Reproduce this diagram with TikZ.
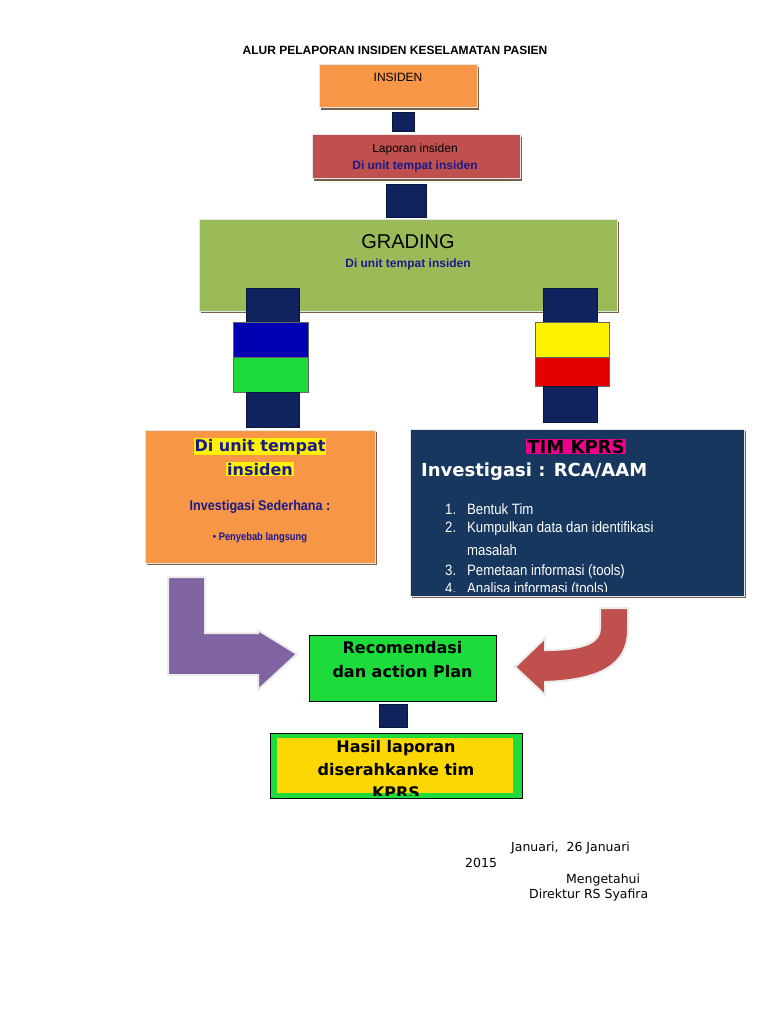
\documentclass[tikz,border=0pt]{standalone}
\usepackage{fontspec}
\setmainfont{Liberation Sans}
\newfontfamily\dv{DejaVu Sans}
\usetikzlibrary{shadows}
\definecolor{nav}{HTML}{10235F}
\definecolor{org}{HTML}{F79646}
\definecolor{rd}{HTML}{C0504D}
\definecolor{olv}{HTML}{9BBB59}
\definecolor{dblue}{HTML}{1A1A8C}
\definecolor{grn}{HTML}{1CDB3A}
\definecolor{kp}{HTML}{17375E}
\definecolor{pur}{HTML}{8064A2}
\begin{document}
\begin{tikzpicture}[x=1pt,y=-1pt,
 bx/.style={draw=white!80!gray,line width=1pt,drop shadow={shadow xshift=2pt,shadow yshift=-2pt,fill=black!55!brown,opacity=.8}},
 sq/.style={fill=nav,draw=nav!60!black,line width=.5pt},
 t/.style={inner sep=0,anchor=base}]
\useasboundingbox (0,0) rectangle (768,1024);
\fill[white] (0,0) rectangle (768,1024);
\node[t,font=\bfseries\fontsize{12}{14}\selectfont] (title) at (395,55) {ALUR PELAPORAN INSIDEN KESELAMATAN PASIEN};
% INSIDEN
\path[bx,fill=org] (319,65) rectangle (477,108);
\node[t,font=\fontsize{12}{14}\selectfont] (ins) at (398,82) {INSIDEN};
\path[sq] (392,112) rectangle (414,131);
\path[bx,fill=rd] (312,135) rectangle (520,179);
\node[t,font=\fontsize{12}{14}\selectfont] (lap) at (415,153) {Laporan insiden};
\node[t,font=\bfseries\fontsize{12}{14}\selectfont,text=dblue] (lap2) at (415,170) {Di unit tempat insiden};
\path[sq] (386,184) rectangle (426,217);
\path[bx,fill=olv] (199,220) rectangle (617,311);
\node[t,font=\fontsize{20}{22}\selectfont] (gr) at (408,248) {GRADING};
\node[t,font=\bfseries\fontsize{12}{14}\selectfont,text=dblue] (gr2) at (408,267) {Di unit tempat insiden};
% left column
\path[sq] (246,288) rectangle (299,322);
\path[fill=blue!70!black,draw=black!60] (233,322) rectangle (308,357);
\path[fill=grn,draw=black!60] (233,357) rectangle (308,392);
\path[sq] (246,392) rectangle (299,427);
% right column
\path[sq] (543,288) rectangle (597,322);
\path[fill=yellow,draw=black!60] (535,322) rectangle (609,357);
\path[fill=red!90!black,draw=black!60] (535,357) rectangle (609,386);
\path[sq] (543,386) rectangle (597,422);
% left box
\path[bx,fill=org] (145,430) rectangle (375,563);
\node[t,font=\dv\bfseries\fontsize{16}{18}\selectfont,text=dblue,fill=yellow,inner sep=1pt] (l1) at (260,451) {Di unit tempat};
\node[t,font=\dv\bfseries\fontsize{16}{18}\selectfont,text=dblue,fill=yellow,inner sep=1pt] (l2) at (260,475) {insiden};
\node[t,font=\bfseries\fontsize{14}{16}\selectfont,text=dblue,xscale=.9] (l3) at (260,510) {Investigasi Sederhana :};
\node[t,font=\bfseries\fontsize{11}{13}\selectfont,text=dblue,xscale=.85] (l4) at (260,540) {• Penyebab langsung};
% right box
\path[bx,fill=kp] (410,429) rectangle (744,596);
\node[t,font=\dv\bfseries\fontsize{18}{20}\selectfont,fill=magenta,inner sep=1pt] (k1) at (576,453) {TIM KPRS};
\node[t,anchor=base west,font=\dv\bfseries\fontsize{18}{20}\selectfont,text=white] (k2) at (421,476) {Investigasi : RCA/AAM};
\begin{scope}
\clip (412,430) rectangle (742,591);
\foreach \n/\y/\s in {1./514/Bentuk Tim,2./532/Kumpulkan data dan identifikasi,/555/masalah,3./575/Pemetaan informasi (tools),4./593/Analisa informasi (tools)}{
 \node[t,anchor=base west,text=white,font=\fontsize{15}{17}\selectfont,xscale=.88] at (445,\y) {\n};
 \node[t,anchor=base west,text=white,font=\fontsize{15}{17}\selectfont,xscale=.88] at (467,\y) {\s};}
\end{scope}
% arrows
\path[fill=pur,draw=white!85!gray,line width=2pt] (168,577) -- (205,577) -- (205,633) -- (258,633) -- (258,630) -- (297,654) -- (258,690) -- (258,675) -- (168,675) -- cycle;
\path[fill=rd,draw=white!85!gray,line width=2pt] (600,608) -- (628,608) -- (628,630) .. controls (628,665) and (600,680) .. (545,682) -- (545,695) -- (515,667) -- (545,638) -- (545,650) .. controls (590,650) and (600,640) .. (600,628) -- cycle;
% reco
\node[draw=black,fill=grn,minimum width=187pt,minimum height=66pt,inner sep=0] (reco) at (402.5,668) {};
\node[t,font=\dv\bfseries\fontsize{16}{18}\selectfont] at (402.5,653) {Recomendasi};
\node[t,font=\dv\bfseries\fontsize{16}{18}\selectfont] at (402.5,677) {dan action Plan};
\path[sq] (379,704) rectangle (407,727);
\node[draw=black,fill=grn,minimum width=252pt,minimum height=65pt,inner sep=0] (has) at (396,765.5) {};
\begin{scope}
\fill[yellow!75!orange] (277,738) rectangle (513,793);
\clip (277,738) rectangle (513,795);
\node[t,font=\dv\bfseries\fontsize{16}{18}\selectfont] at (396,752) {Hasil laporan};
\node[t,font=\dv\bfseries\fontsize{16}{18}\selectfont] at (396,775) {diserahkanke tim};
\node[t,font=\dv\bfseries\fontsize{16}{18}\selectfont] at (396,798) {KPRS};
\end{scope}
\node[t,anchor=base west,font=\dv\fontsize{12.5}{14}\selectfont] at (511,851) {Januari,\ \ 26 Januari};
\node[t,anchor=base west,font=\dv\fontsize{12.5}{14}\selectfont] at (465,867) {2015};
\node[t,anchor=base west,font=\dv\fontsize{12.5}{14}\selectfont] at (566,883) {Mengetahui};
\node[t,anchor=base west,font=\dv\fontsize{12.5}{14}\selectfont] at (529,898) {Direktur RS Syafira};
\end{tikzpicture}
\end{document}
